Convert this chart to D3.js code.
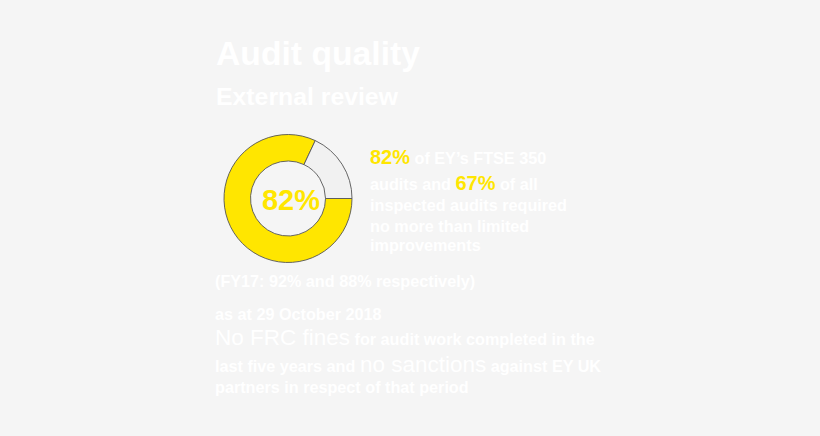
<!DOCTYPE html>
<html lang="en">
<head>
<meta charset="utf-8">
<script src="https://cdn.jsdelivr.net/npm/d3@7"></script>
<style>
  body { margin: 0; background: #f5f5f5; }
  svg { display: block; font-family: "Liberation Sans", Arial, sans-serif; }
</style>
</head>
<body>
<script>
"use strict";

// donut data
const categories = ["No more than limited improvements", "Other"];
const values = [82, 18];
const sliceColors = ["#ffe600", "#f1f1f1"];
const centerLabel = "82%";

// texts
const title = "Audit quality";
const subtitle = "External review";
const rightLines = [
  [["82%", "hi"], [" of EY\u2019s FTSE 350", "b"]],
  [["audits and ", "b"], ["67%", "hi"], [" of all", "b"]],
  [["inspected audits required", "b"]],
  [["no more than limited", "b"]],
  [["improvements", "b"]]
];
const lowerLines = [
  [["(FY17: 92% and 88% respectively)", "b"]],
  [["as at 29 October 2018", "b"]],
  [["No FRC fines", "big"], [" for audit work completed in the", "b"]],
  [["last five years and ", "b"], ["no sanctions", "big"], [" against EY UK", "b"]],
  [["partners in respect of that period", "b"]]
];

const W = 820, H = 436;
const svg = d3.select("body").append("svg").attr("width", W).attr("height", H);
svg.append("rect").attr("width", W).attr("height", H).attr("fill", "#f5f5f5");

svg.append("text").attr("x", 216).attr("y", 65)
  .attr("fill", "#fff").attr("font-weight", "bold").attr("font-size", 33.7).text(title);
svg.append("text").attr("x", 216).attr("y", 105)
  .attr("fill", "#fff").attr("font-weight", "bold").attr("font-size", 24.8).text(subtitle);

// donut
const cx = 288, cy = 198.5;
const pie = d3.pie().sort(null).startAngle(Math.PI / 2).endAngle(Math.PI / 2 + 2 * Math.PI);
const arc = d3.arc().innerRadius(37.5).outerRadius(64);
const g = svg.append("g").attr("transform", `translate(${cx},${cy})`);
g.selectAll("path").data(pie(values)).join("path")
  .attr("d", arc)
  .attr("fill", (d, i) => sliceColors[i])
  .attr("stroke", "#555")
  .attr("stroke-width", 0.9)
  .append("title").text((d, i) => categories[i] + ": " + d.data + "%");
g.append("text").attr("x", 3).attr("y", 11.5).attr("text-anchor", "middle")
  .attr("fill", "#ffe600").attr("font-weight", "bold").attr("font-size", 29).text(centerLabel);

const styles = {
  hi: { size: 20, weight: "bold", fill: "#ffe600" },
  b: { size: 16.2, weight: "bold", fill: "#ffffff" },
  big: { size: 22.5, weight: "normal", fill: "#ffffff" }
};

function writeLines(x, ys, lines) {
  lines.forEach((parts, li) => {
    const t = svg.append("text").attr("x", x).attr("y", ys[li]);
    parts.forEach(([s, k]) => {
      t.append("tspan")
        .attr("font-size", styles[k].size)
        .attr("font-weight", styles[k].weight)
        .attr("fill", styles[k].fill)
        .attr("xml:space", "preserve")
        .style("white-space", "pre")
        .text(s);
    });
  });
}

writeLines(370, [164, 190, 211, 231.5, 251], rightLines);
writeLines(215, [286.5, 320, 345, 372, 392.5], lowerLines);
</script>
</body>
</html>
